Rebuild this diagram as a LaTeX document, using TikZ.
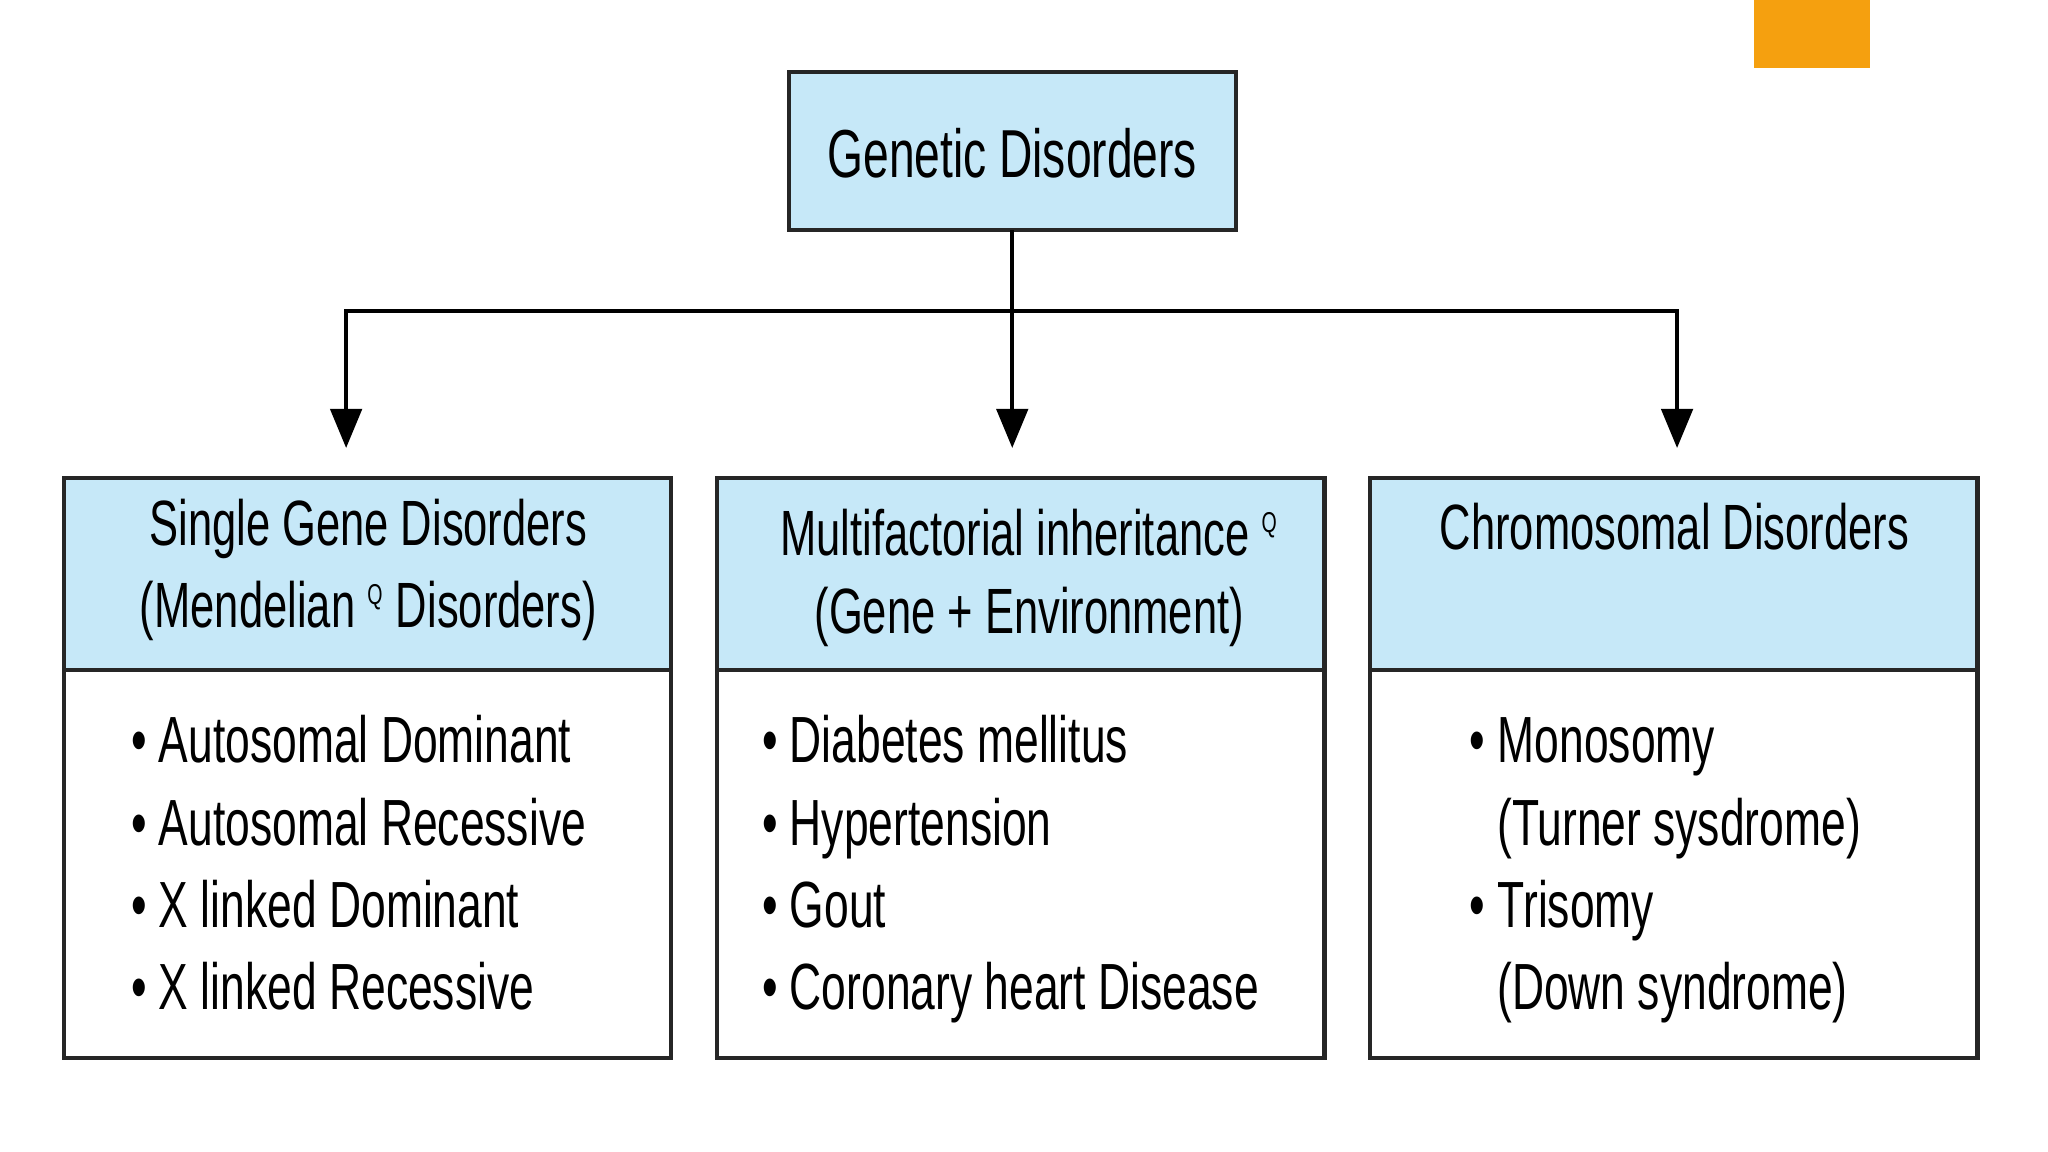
\documentclass[tikz,border=0pt]{standalone}
\usepackage{fontspec}
\setmainfont{Liberation Sans}[FakeStretch=0.68]
\usetikzlibrary{arrows.meta}
\definecolor{hdr}{HTML}{C6E8F8}
\definecolor{org}{HTML}{F5A00F}
\begin{document}
\begin{tikzpicture}[x=0.5pt,y=-0.5pt,
  box/.style={draw=black!85,line width=1.6pt},
  hd/.style={box,fill=hdr},
  txt/.style={font=\fontsize{25}{28}\selectfont,inner sep=0,anchor=base west},
  htxt/.style={font=\fontsize{24.5}{28}\selectfont,inner sep=0},
  arr/.style={line width=1.6pt,-{Triangle[width=12pt,length=15pt]}}]
\useasboundingbox (0,0) rectangle (1568,882);
\fill[org] (1343,0) rectangle (1432,52);
\draw[hd] (604,55) rectangle (946,176);
\node[htxt,font=\fontsize{26}{30}\selectfont] (top) at (775,117) {Genetic Disorders};
\coordinate (tb) at (775,176);
\coordinate (j) at (775,238);
\coordinate (jl) at (265,238);
\coordinate (jr) at (1284,238);
\coordinate (al) at (265,343);
\coordinate (am) at (775,343);
\coordinate (ar) at (1284,343);
\draw[line width=1.6pt] (tb) -- (j);
\draw[arr] (j) -- (jl) -- (al);
\draw[arr] (j) -- (jr) -- (ar);
\draw[arr] (j) -- (am);
\foreach \a in {49,549,1049}{
  \draw[hd] (\a,366) rectangle ({\a+465},513);
  \draw[box,fill=white] (\a,513) rectangle ({\a+465},810);
}
\newcommand{\qq}{\textsuperscript{\fontsize{11}{12}\selectfont Q}}
\node[htxt] (h1a) at (282,405) {Single Gene Disorders};
\node[htxt] (h1b) at (282,468) {(Mendelian \qq\ Disorders)};
\node[htxt] (h2a) at (788,408) {Multifactorial inheritance \qq};
\node[htxt] (h2b) at (788,472) {(Gene + Environment)};
\node[htxt] (h3a) at (1282,403) {Chromosomal Disorders};
\foreach \t [count=\i] in {Autosomal Dominant,Autosomal Recessive,X linked Dominant,X linked Recessive}
  \node[txt] (l\i) at (100,{521+\i*63}) {• \t};
\foreach \t [count=\i] in {Diabetes mellitus,Hypertension,Gout,Coronary heart Disease}
  \node[txt] (m\i) at (583,{521+\i*63}) {• \t};
\node[txt] (r1) at (1125,584) {• Monosomy};
\node[txt] (r2) at (1146,647) {(Turner sysdrome)};
\node[txt] (r3) at (1125,710) {• Trisomy};
\node[txt] (r4) at (1146,773) {(Down syndrome)};
\end{tikzpicture}
\end{document}
